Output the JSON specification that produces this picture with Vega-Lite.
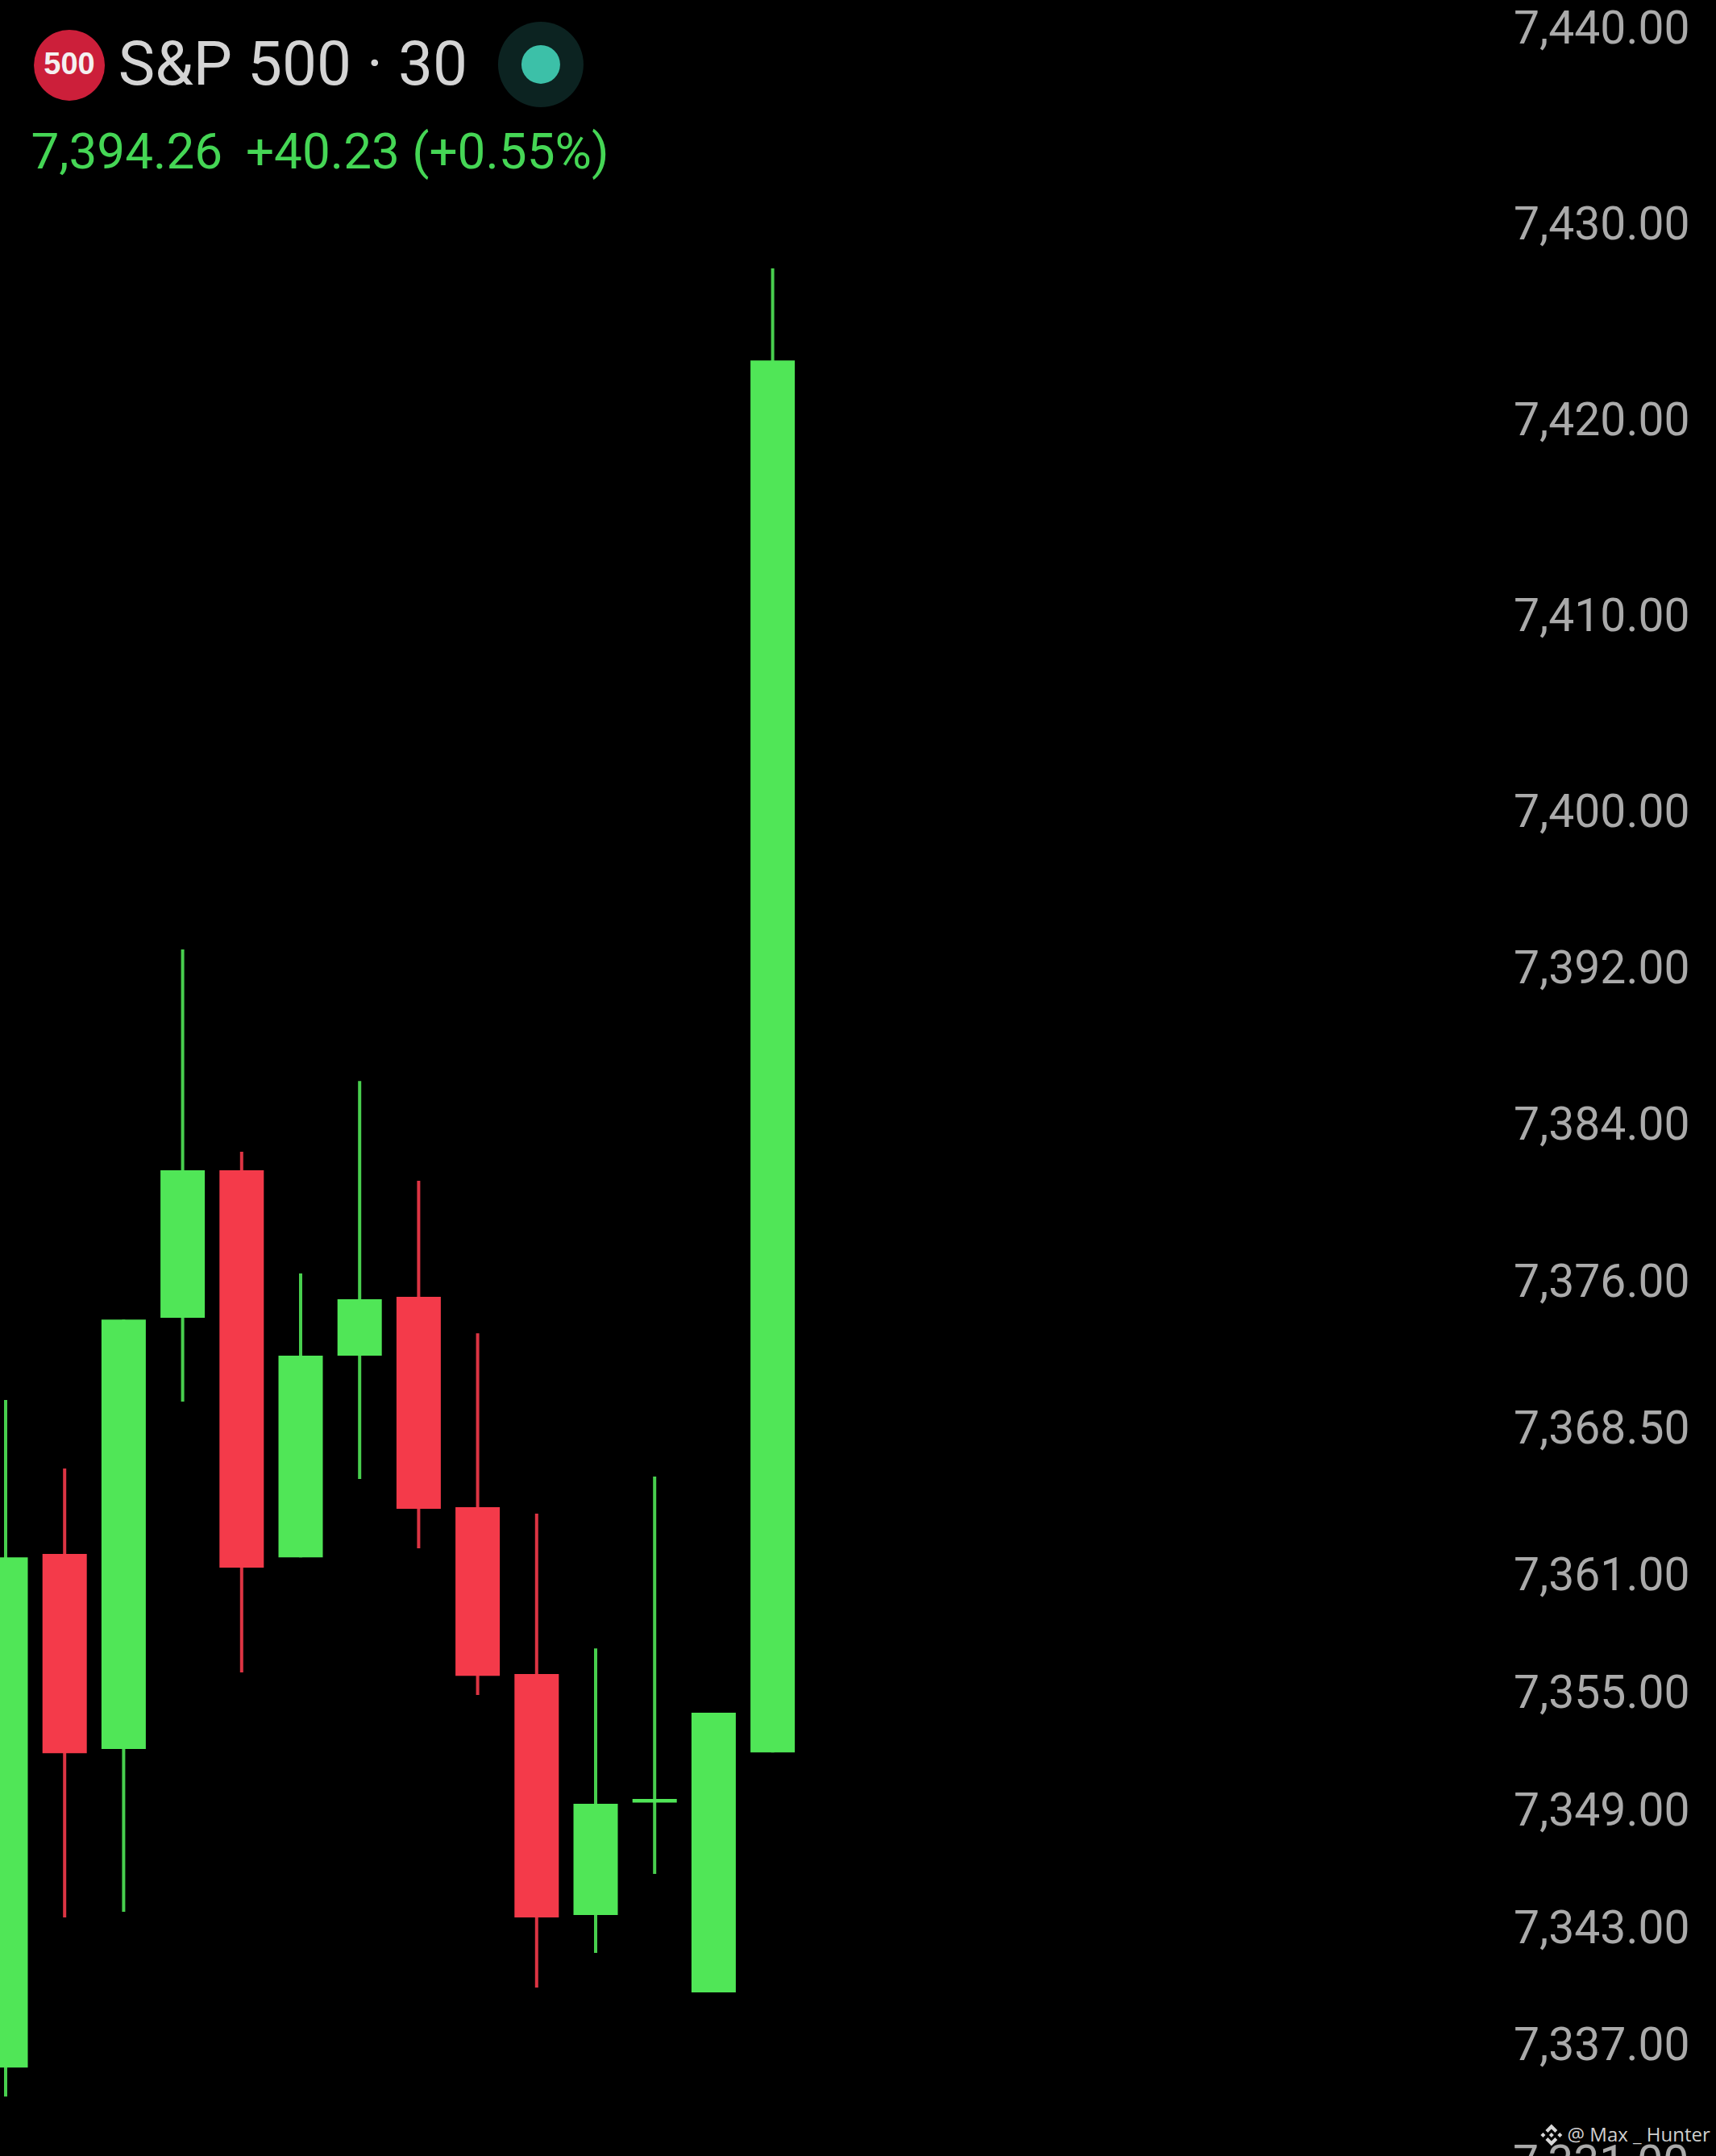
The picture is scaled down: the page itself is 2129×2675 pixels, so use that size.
{
  "$schema": "https://vega.github.io/schema/vega-lite/v6.json",
  "width": 2129,
  "height": 2675,
  "padding": 0,
  "autosize": "none",
  "background": "#000000",
  "config": {"view": {"stroke": null}},
  "datasets": {
    "candles": [
      {"i": 0, "dir": "up", "open": 7335.84, "close": 7361.89, "high": 7369.92, "low": 7334.36},
      {"i": 1, "dir": "down", "open": 7362.06, "close": 7351.89, "high": 7366.42, "low": 7343.5},
      {"i": 2, "dir": "up", "open": 7352.1, "close": 7374.03, "high": 7374.03, "low": 7343.79},
      {"i": 3, "dir": "up", "open": 7374.12, "close": 7381.65, "high": 7392.92, "low": 7369.84},
      {"i": 4, "dir": "down", "open": 7381.65, "close": 7361.36, "high": 7382.59, "low": 7356.01},
      {"i": 5, "dir": "up", "open": 7361.89, "close": 7372.18, "high": 7376.38, "low": 7361.89},
      {"i": 6, "dir": "up", "open": 7372.18, "close": 7375.06, "high": 7386.21, "low": 7365.89},
      {"i": 7, "dir": "down", "open": 7375.19, "close": 7364.36, "high": 7381.11, "low": 7362.35},
      {"i": 8, "dir": "down", "open": 7364.45, "close": 7355.84, "high": 7373.33, "low": 7354.86},
      {"i": 9, "dir": "down", "open": 7355.93, "close": 7343.5, "high": 7364.12, "low": 7339.92},
      {"i": 10, "dir": "up", "open": 7343.62, "close": 7349.3, "high": 7357.24, "low": 7341.69},
      {"i": 11, "dir": "up", "open": 7349.36, "close": 7349.55, "high": 7366.01, "low": 7345.72},
      {"i": 12, "dir": "up", "open": 7339.67, "close": 7353.95, "high": 7353.95, "low": 7339.67},
      {"i": 13, "dir": "up", "open": 7351.93, "close": 7423, "high": 7427.7, "low": 7351.93}
    ]
  },
  "layer": [
    {
      "data": {"name": "candles"},
      "mark": {"type": "rule", "strokeWidth": 4, "opacity": 0.9},
      "encoding": {
        "x": {"field": "i", "type": "quantitative", "scale": {"domain": [-0.0956, 28.989], "nice": false, "zero": false, "padding": 0}, "axis": null},
        "y": {
          "field": "low",
          "type": "quantitative",
          "scale": {"domain": [7331.32, 7441.4], "nice": false, "zero": false, "padding": 0},
          "axis": {
            "orient": "right",
            "title": null,
            "values": [7337, 7343, 7349, 7355, 7361, 7368.5, 7376, 7384, 7392, 7400, 7410, 7420, 7430, 7440],
            "format": ",.2f",
            "grid": false,
            "domain": false,
            "ticks": false,
            "tickSize": 0,
            "labelPadding": -33,
            "labelAlign": "right",
            "labelBaseline": "middle",
            "labelFont": "Roboto",
            "labelFontSize": 57,
            "labelColor": "#aaaaaa",
            "labelLimit": 500,
            "labelOffset": 2,
            "labelOverlap": false,
            "labelFlush": false,
            "labelBound": false
          }
        },
        "y2": {"field": "high"},
        "color": {"field": "dir", "type": "nominal", "scale": {"domain": ["up", "down"], "range": ["#50e657", "#f43a4a"]}, "legend": null}
      }
    },
    {
      "data": {"name": "candles"},
      "mark": {"type": "bar", "size": 55, "orient": "vertical"},
      "encoding": {
        "x": {"field": "i", "type": "quantitative"},
        "y": {"field": "open", "type": "quantitative"},
        "y2": {"field": "close"},
        "color": {"field": "dir", "type": "nominal", "legend": null}
      }
    },
    {
      "data": {"values": [{"i": 28.53, "price": 7331, "label": "7,331.00"}]},
      "mark": {"type": "text", "font": "Roboto", "fontSize": 57, "align": "right", "baseline": "middle", "dy": 2, "color": "#aaaaaa"},
      "encoding": {"x": {"field": "i", "type": "quantitative"}, "y": {"field": "price", "type": "quantitative"}, "text": {"field": "label"}}
    },
    {
      "data": {"values": [{"i": 1.08, "price": 7438.07}]},
      "mark": {"type": "point", "filled": true, "opacity": 1, "size": 7744, "shape": "circle", "color": "#cc1f3a"},
      "encoding": {"x": {"field": "i", "type": "quantitative"}, "y": {"field": "price", "type": "quantitative"}}
    },
    {
      "data": {"values": [{"i": 9.07, "price": 7438.11}]},
      "mark": {"type": "point", "filled": true, "opacity": 1, "size": 11236, "shape": "circle", "color": "#0c2321"},
      "encoding": {"x": {"field": "i", "type": "quantitative"}, "y": {"field": "price", "type": "quantitative"}}
    },
    {
      "data": {"values": [{"i": 9.07, "price": 7438.11}]},
      "mark": {"type": "point", "filled": true, "opacity": 1, "size": 2304, "shape": "circle", "color": "#3cc0a8"},
      "encoding": {"x": {"field": "i", "type": "quantitative"}, "y": {"field": "price", "type": "quantitative"}}
    },
    {
      "data": {"values": [{"i": 1.08, "price": 7438.07, "label": "500"}]},
      "mark": {"type": "text", "font": "Liberation Sans", "fontWeight": "bold", "fontSize": 38, "align": "center", "baseline": "middle", "color": "#f4f0f0"},
      "encoding": {"x": {"field": "i", "type": "quantitative"}, "y": {"field": "price", "type": "quantitative"}, "text": {"field": "label"}}
    },
    {
      "data": {"values": [{"i": 1.91, "price": 7437.08, "label": "S&P 500 · 30"}]},
      "mark": {"type": "text", "font": "Roboto", "fontSize": 76.5, "align": "left", "baseline": "alphabetic", "color": "#d4d4d4"},
      "encoding": {"x": {"field": "i", "type": "quantitative"}, "y": {"field": "price", "type": "quantitative"}, "text": {"field": "label"}}
    },
    {
      "data": {"values": [
        {"i": 0.43, "price": 7432.8, "label": "7,394.26"},
        {"i": 4.07, "price": 7432.8, "label": "+40.23 (+0.55%)"}
      ]},
      "mark": {"type": "text", "font": "Roboto", "fontSize": 62, "align": "left", "baseline": "alphabetic", "color": "#45d655"},
      "encoding": {"x": {"field": "i", "type": "quantitative"}, "y": {"field": "price", "type": "quantitative"}, "text": {"field": "label"}}
    },
    {
      "data": {"values": [{"i": 26.2, "price": 7332.39}]},
      "mark": {
        "type": "point",
        "filled": true,
        "opacity": 1,
        "size": 729,
        "color": "#d8d8d8",
        "shape": "M0,-1L0.55,-0.45L0.33,-0.22L0,-0.55L-0.33,-0.22L-0.55,-0.45ZM0,1L0.55,0.45L0.33,0.22L0,0.55L-0.33,0.22L-0.55,0.45ZM-1,0L-0.77,-0.22L-0.55,0L-0.77,0.22ZM1,0L0.77,-0.22L0.55,0L0.77,0.22ZM0,-0.22L0.22,0L0,0.22L-0.22,0Z"
      },
      "encoding": {"x": {"field": "i", "type": "quantitative"}, "y": {"field": "price", "type": "quantitative"}}
    },
    {
      "data": {"values": [{"i": 26.47, "price": 7332.06, "label": "@ Max _ Hunter"}]},
      "mark": {"type": "text", "font": "Open Sans", "fontSize": 24, "align": "left", "baseline": "alphabetic", "color": "#d0d0d0"},
      "encoding": {"x": {"field": "i", "type": "quantitative"}, "y": {"field": "price", "type": "quantitative"}, "text": {"field": "label"}}
    }
  ]
}
